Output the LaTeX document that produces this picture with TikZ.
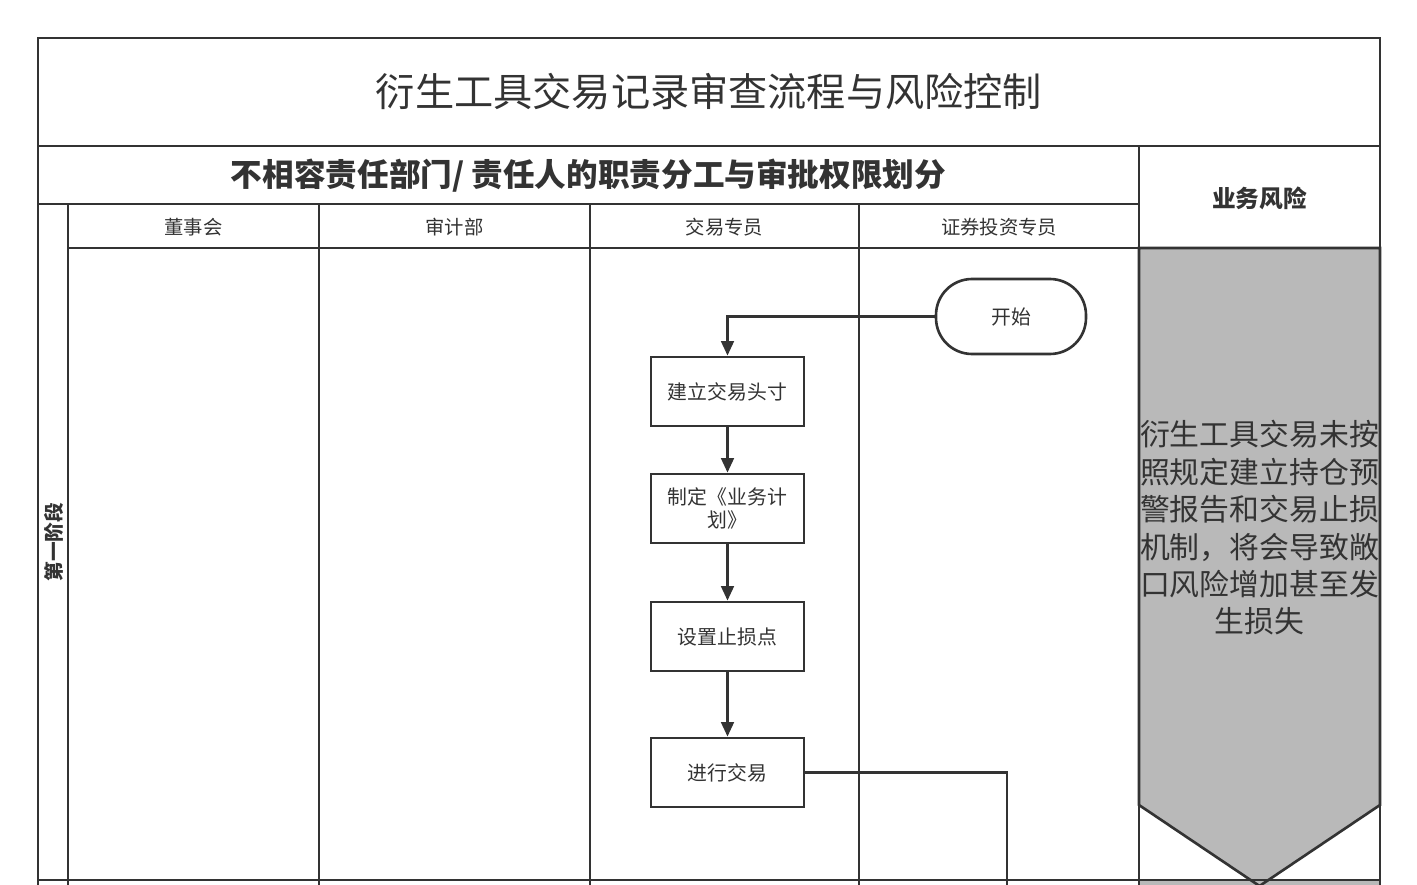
\documentclass[tikz,border=0pt]{standalone}
\usepackage{fontspec}
\setmainfont{Noto Sans CJK SC}
\usepackage{tikz}
\usetikzlibrary{arrows.meta}
\definecolor{ink}{HTML}{333333}
\definecolor{riskfill}{HTML}{B9B9B9}
\tikzset{
  base/.style={draw=ink, line width=1.5pt},
  conn/.style={draw=ink, line width=1.6pt},
  arr/.style={conn, -{Triangle[length=2.9mm,width=2.5mm]}},
  box/.style={base, fill=white, rectangle, minimum width=3.06cm, minimum height=1.38cm,
    inner sep=2pt, align=center, text=ink, font=\fontsize{11.3}{13.5}\selectfont},
  term/.style={box, minimum width=3cm, minimum height=1.5cm, rounded corners=0.72cm},
  lab/.style={text=ink, font=\fontsize{11}{13}\selectfont},
  head/.style={text=ink, font=\bfseries\fontsize{13.5}{16}\selectfont},
}

\begin{document}
\begin{tikzpicture}[x=0.02cm, y=-0.02cm]
  \clip (0,0) rectangle (1417,885);
  % risk column
  \fill[riskfill] (1139,880) rectangle (1380,900);
  \draw[base, fill=riskfill] (1139,248) -- (1380,248) -- (1380,805) -- (1259.5,886) -- (1139,805) -- cycle;
  % frame and lanes
  \draw[base] (38,38) rectangle (1380,900);
  \draw[base] (38,146) -- (1380,146) (38,204) -- (1139,204) (68,248) -- (1380,248) (38,880) -- (1380,880);
  \foreach \x/\y in {68/204,319/204,590/204,859/204,1139/146}
    \draw[base] (\x,\y) -- (\x,900);
  \node[text=ink, font=\fontsize{22.3}{26}\selectfont] (title) at (709,92) {衍生工具交易记录审查流程与风险控制};
  \node[text=ink, font=\bfseries\fontsize{18}{21}\selectfont] (duty) at (588.5,176) {不相容责任部门/ 责任人的职责分工与审批权限划分};
  \node[head] (riskhd) at (1259.5,198) {业务风险};
  \foreach \x/\n/\t in {193.5/dsh/董事会,454.5/sjb/审计部,724.5/jy/交易专员,999/zq/证券投资专员}
    \node[lab] (\n) at (\x,227) {\t};
  \node[rotate=90, text=ink, font=\bfseries\fontsize{11.2}{13}\selectfont] (stage) at (54,542) {第一阶段};
  % flow
  \node[term] (st) at (1011,316.5) {开始};
  \node[box] (b1) at (727.5,391.5) {建立交易头寸};
  \node[box] (b2) at (727.5,508.5) {制定《业务计\\划》};
  \node[box] (b3) at (727.5,636.5) {设置止损点};
  \node[box] (b4) at (727.5,772.5) {进行交易};
  \coordinate (nx) at (1007,900);
  \draw[arr] (st.west) -| (b1.north);
  \foreach \a/\b in {b1/b2,b2/b3,b3/b4}
    \draw[arr] (\a) -- (\b);
  \draw[conn] (b4.east) -| (nx);
  \node[align=center, text=ink, font=\fontsize{17}{21.3}\selectfont] (risk) at (1259.5,528)
    {衍生工具交易未按\\照规定建立持仓预\\警报告和交易止损\\机制，将会导致敞\\口风险增加甚至发\\生损失};
\end{tikzpicture}
\end{document}
